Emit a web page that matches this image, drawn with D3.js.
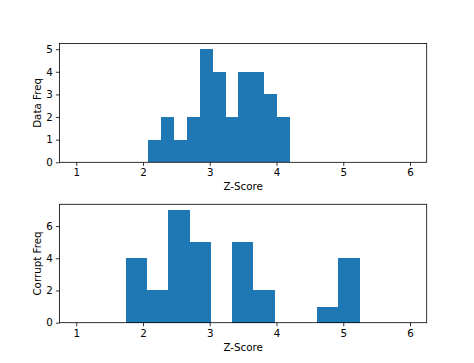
<!DOCTYPE html>
<html>
<head>
<meta charset="utf-8">
<script src="https://cdn.jsdelivr.net/npm/d3@7"></script>
<style>
  html, body { margin: 0; padding: 0; background: #fff; }
  svg { display: block; }
  text { font-family: "DejaVu Sans", sans-serif; }
</style>
</head>
<body>
<script>
// ---- Data ----
const xTicks = [1, 2, 3, 4, 5, 6];
const xLabel = "Z-Score";

const topLabel = "Data Freq";
const topEdges = [2.080, 2.273, 2.466, 2.659, 2.852, 3.045, 3.237, 3.430, 3.623, 3.816, 4.009, 4.202];
const topCounts = [1, 2, 1, 2, 5, 4, 2, 4, 4, 3, 2];
const topYTicks = [0, 1, 2, 3, 4, 5];

const botLabel = "Corrupt Freq";
const botEdges = [1.745, 2.063, 2.382, 2.700, 3.018, 3.336, 3.655, 3.973, 4.291, 4.609, 4.927, 5.245];
const botCounts = [4, 2, 7, 5, 0, 5, 2, 0, 0, 1, 4];
const botYTicks = [0, 2, 4, 6];

// ---- Layout ----
const W = 474, H = 363;
const left = 59.5, right = 426.7;
const panels = [
  { top: 43.5, bottom: 162.3, edges: topEdges, counts: topCounts, yTicks: topYTicks, yLabel: topLabel },
  { top: 204.3, bottom: 322.7, edges: botEdges, counts: botCounts, yTicks: botYTicks, yLabel: botLabel }
];
const color = "#1f77b4";
const fs = 10.3;

const svg = d3.select("body").append("svg").attr("width", W).attr("height", H);

panels.forEach(p => {
  const maxC = d3.max(p.counts);
  const x = d3.scaleLinear().domain([0.75, 6.25]).range([left, right]);
  const y = d3.scaleLinear().domain([0, maxC * 1.05]).range([p.bottom, p.top]);

  const g = svg.append("g");
  const bins = p.counts.map((c, i) => ({ x0: p.edges[i], x1: p.edges[i + 1], c }));

  g.selectAll("rect.bar").data(bins.filter(b => b.c > 0)).join("rect")
    .attr("class", "bar")
    .attr("x", d => x(d.x0))
    .attr("width", d => x(d.x1) - x(d.x0))
    .attr("y", d => y(d.c))
    .attr("height", d => y(0) - y(d.c))
    .attr("fill", color)
    .attr("shape-rendering", "crispEdges");

  // axes
  const xAxis = d3.axisBottom(x).tickValues(xTicks).tickFormat(d3.format("d"))
    .tickSize(3.6).tickPadding(3.2);
  const gx = g.append("g").attr("transform", `translate(0,${p.bottom})`).call(xAxis);
  const yAxis = d3.axisLeft(y).tickValues(p.yTicks).tickFormat(d3.format("d"))
    .tickSize(3.6).tickPadding(3.2);
  const gy = g.append("g").attr("transform", `translate(${left},0)`).call(yAxis);
  [gx, gy].forEach(a => {
    a.select(".domain").remove();
    a.selectAll("text").attr("font-size", fs).attr("fill", "#000")
      .attr("font-family", "DejaVu Sans, sans-serif");
    a.selectAll("line").attr("stroke", "#000").attr("stroke-width", 0.8);
  });

  // frame
  g.append("rect")
    .attr("x", left).attr("y", p.top)
    .attr("width", right - left).attr("height", p.bottom - p.top)
    .attr("fill", "none").attr("stroke", "#000").attr("stroke-width", 0.8);

  // labels
  g.append("text")
    .attr("x", (left + right) / 2).attr("y", p.bottom + 28)
    .attr("text-anchor", "middle").attr("font-size", fs).attr("fill", "#000")
    .text(xLabel);
  g.append("text")
    .attr("transform", `translate(${41},${(p.top + p.bottom) / 2}) rotate(-90)`)
    .attr("text-anchor", "middle").attr("font-size", fs).attr("fill", "#000")
    .text(p.yLabel);
});
</script>
</body>
</html>
